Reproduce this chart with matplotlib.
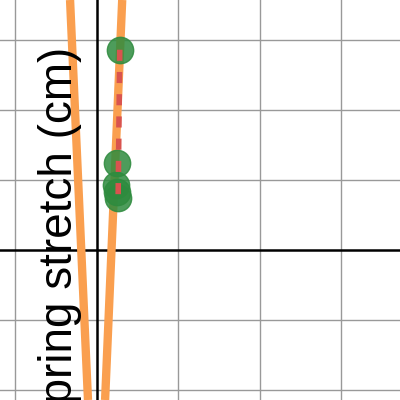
import matplotlib
matplotlib.use("Agg")
import matplotlib.pyplot as plt

pts_x = [0.28, 0.245, 0.23, 0.245, 0.26]
pts_y = [2.86, 1.24, 0.93, 0.83, 0.74]
line1_x = [0.31, 0.10]
line1_y = [3.57, -2.14]
line2_x = [-0.33, -0.11]
line2_y = [3.57, -2.14]
fit_x = [0.28, 0.26]
fit_y = [2.86, 0.74]

fig = plt.figure(figsize=(4, 4), dpi=100)
ax = fig.add_axes([0, 0, 1, 1])
ax.set_xlim(-1.19, 3.72)
ax.set_ylim(-2.14, 3.57)
for gx in [-1, 1, 2, 3]:
    ax.axvline(gx, color="#999999", lw=1)
for gy in [-2, -1, 1, 2, 3]:
    ax.axhline(gy, color="#999999", lw=1)
ax.axvline(0, color="black", lw=1.8)
ax.axhline(0, color="black", lw=1.8)
ax.plot(line1_x, line1_y, color="#fa9f4f", lw=6, solid_capstyle="butt")
ax.plot(line2_x, line2_y, color="#fa9f4f", lw=6, solid_capstyle="butt")
ax.scatter(pts_x, pts_y, s=360, color="#2e8b3e", alpha=0.85, zorder=3)
ax.plot(fit_x, fit_y, color="#d9534f", lw=4, ls=(0, (2, 2)), zorder=4)
ax.axis("off")
fig.text(0.15, 0.40, "Spring stretch (cm)", rotation=90, fontsize=33,
         ha="center", va="center", family="Liberation Sans")
fig.savefig("out.png")
